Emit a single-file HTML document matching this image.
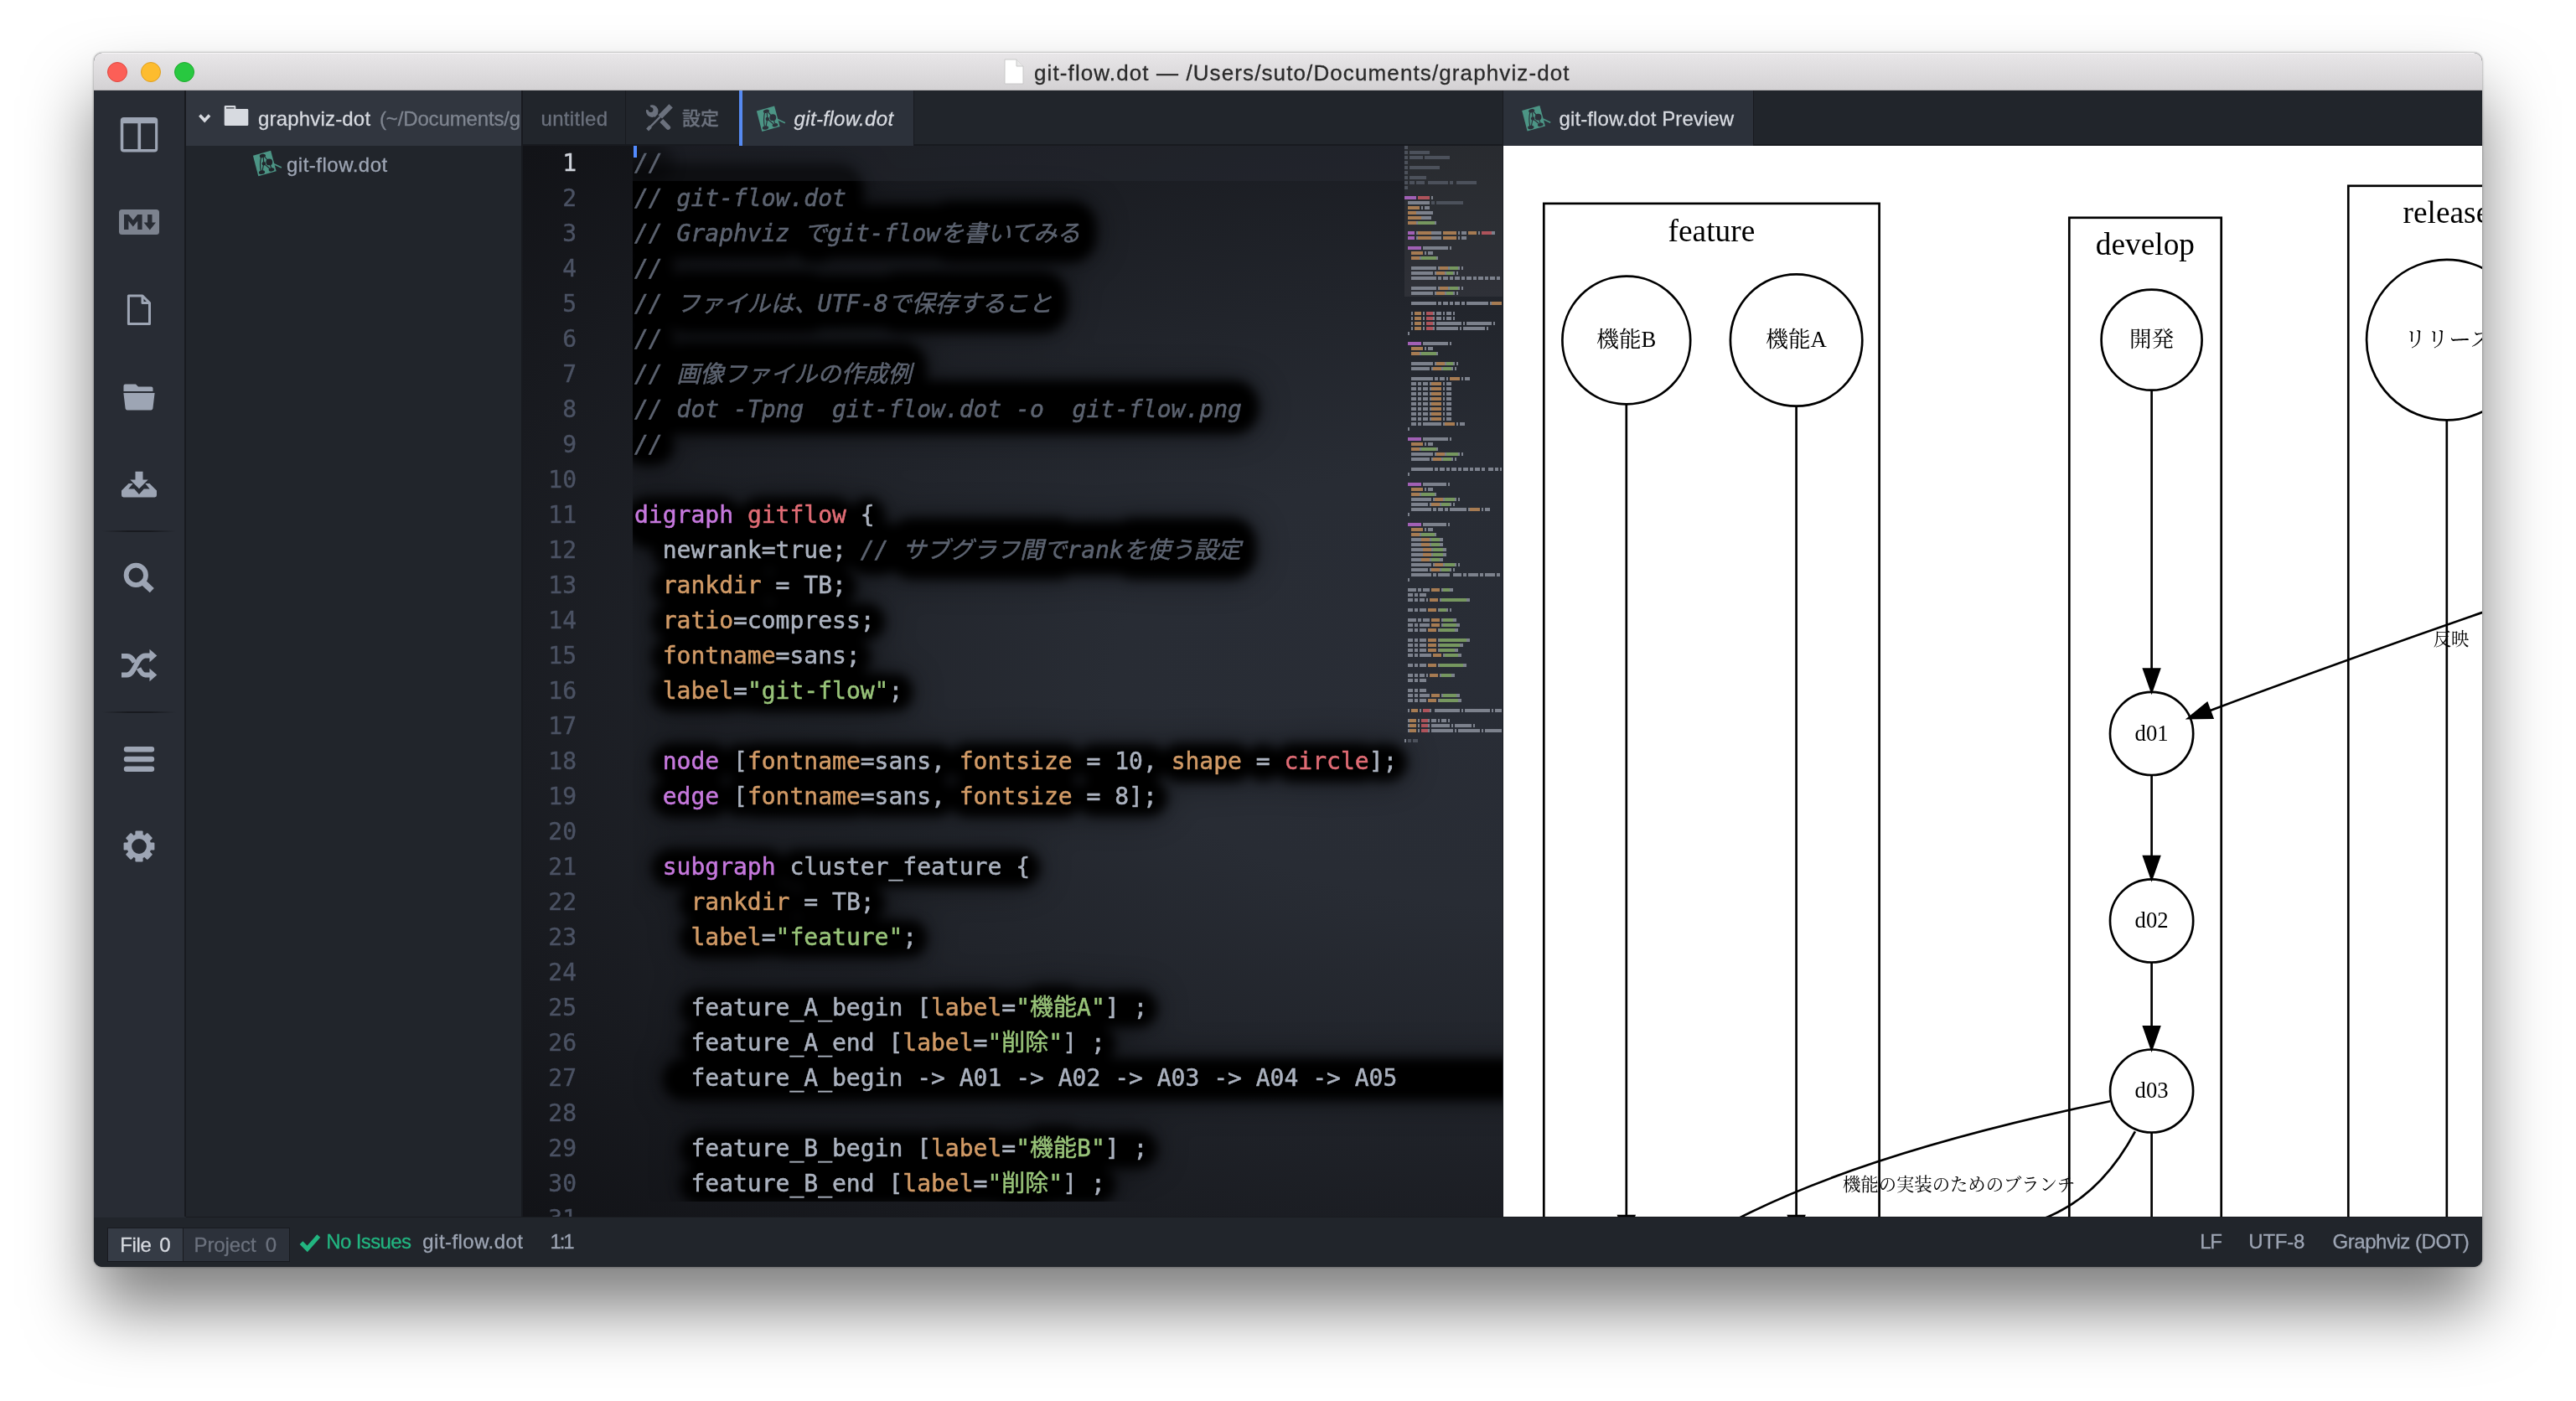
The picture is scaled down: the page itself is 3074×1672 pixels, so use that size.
<!DOCTYPE html>
<html lang="ja"><head><meta charset="utf-8"><title>git-flow.dot — /Users/suto/Documents/graphviz-dot</title>
<style>
html,body{margin:0;padding:0}
body{width:3074px;height:1672px;background:#fff;overflow:hidden;position:relative;font-family:"Liberation Sans","Noto Sans CJK JP",sans-serif}
.abs,.abs>*{position:absolute}
#shadow{position:absolute;left:112px;top:63px;width:2850px;height:1449px;border-radius:10px;background:#21252b;
 box-shadow:0 50px 80px rgba(0,0,0,.50),0 0 3px rgba(0,0,0,.45)}
#win{will-change:transform;position:absolute;left:0;top:0;width:3074px;height:1672px;clip-path:inset(63px 112px 160px 112px round 10px)}
#win div,#win span,#win svg{position:absolute}
.ui{font-size:24px;line-height:30px;white-space:nowrap;color:#9da5b4;-webkit-text-stroke:.3px}
/* title bar */
#tb{left:112px;top:63px;width:2850px;height:45px;background:linear-gradient(#e9e7e9,#d3d1d3);box-shadow:inset 0 1px 0 #f6f5f6, inset 0 -1px 0 #b4b2b4}
.tl{width:24px;height:24px;border-radius:50%;top:74px;box-sizing:border-box}
/* editor */
#ed{left:624px;top:174px;width:1169px;height:1279px;overflow:hidden;
 background:radial-gradient(ellipse 1653px 950px at 1169px 640px,#292d36 0%,#282c34 28%,#111216 100%)}
#gut{left:0;top:0;width:131px;height:1279px}
.ln{right:0;width:131px;height:42px;text-align:right;font:28px/42px "DejaVu Sans Mono","Liberation Mono","Noto Sans CJK JP",monospace;color:#4b5263;left:-67px;-webkit-text-stroke:.4px}
#lines{left:131px;top:0;width:1038px;height:1279px;overflow:hidden}
.l{left:2px;height:42px;font:28px/42px "DejaVu Sans Mono","Liberation Mono","Noto Sans CJK JP",monospace;white-space:pre;color:#abb2bf;-webkit-text-stroke:.5px}
.l span{position:static !important}
.c{color:#5c6370;font-style:italic} .p{color:#c678dd} .o{color:#d19a66} .g{color:#98c379} .r{color:#e06c75}
</style></head><body>
<div id="shadow"></div>
<div id="win">
<div id="tb"></div><div class="tl" style="left:128px;background:#fc5f57;border:1px solid #df4840"></div><div class="tl" style="left:168px;background:#fdbc2e;border:1px solid #dea024"></div><div class="tl" style="left:208px;background:#28c840;border:1px solid #1dab2c"></div><svg style="left:1198px;top:70px" width="24" height="31" viewBox="0 0 24 31"><path d="M1 1h14l8 8v21H1z" fill="#fff" stroke="#c8c8c8" stroke-width="1"/><path d="M15 1v8h8" fill="#e8e8e8" stroke="#c8c8c8" stroke-width="1"/></svg><div id="title" style="-webkit-text-stroke:.3px;left:1234px;top:70px;font-size:26px;line-height:34px;color:#2a2a2a;white-space:nowrap;letter-spacing:1.11px">git-flow.dot — /Users/suto/Documents/graphviz-dot</div><div style="left:112px;top:108px;width:109px;height:1345px;background:#282c34"></div><div style="left:220.400px;top:108px;width:1.600px;height:1344px;background:#181a1f"></div><div style="left:222px;top:108px;width:400px;height:1345px;background:#21252b"></div><div style="left:222px;top:108px;width:400px;height:66px;background:#31363f"></div><div style="left:622px;top:108px;width:2px;height:1345px;background:#181a1f"></div><div class="ui" id="t_root" style="left:308px;top:127px;color:#d7dae0;letter-spacing:.18px">graphviz-dot</div><div class="ui" id="t_path" style="left:453px;top:127px;color:#7f8590;width:169px;overflow:hidden;letter-spacing:-.15px">(~/Documents/graphviz-dot)</div><div class="ui" id="t_file" style="left:342px;top:182px;color:#9da5b4;letter-spacing:.5px">git-flow.dot</div><div style="left:624px;top:108px;width:1169px;height:66px;background:#21252b;box-shadow:inset 0 -2px 0 #181a1f"></div><div style="left:1793px;top:108px;width:1px;height:1345px;background:#181a1f"></div><div style="left:1794px;top:108px;width:1168px;height:66px;background:#21252b;box-shadow:inset 0 -2px 0 #181a1f"></div><div style="left:746px;top:108px;width:1px;height:64px;background:#181a1f"></div><div style="left:882px;top:108px;width:1px;height:64px;background:#181a1f"></div><div style="left:1090px;top:108px;width:1px;height:64px;background:#181a1f"></div><div style="left:882px;top:108px;width:208px;height:66px;background:#2c313a"></div><div style="left:882px;top:108px;width:4px;height:66px;background:#568af2"></div><div class="ui" id="tab1" style="left:645.5px;top:127px;color:#6b717d;letter-spacing:.32px">untitled</div><div class="ui" id="tab2" style="left:814px;top:127px;color:#6b717d;font-size:22px;font-weight:500">設定</div><div class="ui" id="tab3" style="left:947.5px;top:127px;color:#d7dae0;font-style:italic;letter-spacing:.36px">git-flow.dot</div><div style="left:1794px;top:108px;width:298px;height:66px;background:#2c313a"></div><div style="left:2092px;top:108px;width:1px;height:64px;background:#181a1f"></div><div class="ui" id="tab4" style="left:1860.5px;top:127px;color:#d7dae0;letter-spacing:.1px">git-flow.dot Preview</div><div id="ed"><div id="gut"><div class="ln" style="top:0px;color:#d0d4dc">1</div><div class="ln" style="top:42px;color:#4b5263">2</div><div class="ln" style="top:84px;color:#4b5263">3</div><div class="ln" style="top:126px;color:#4b5263">4</div><div class="ln" style="top:168px;color:#4b5263">5</div><div class="ln" style="top:210px;color:#4b5263">6</div><div class="ln" style="top:252px;color:#4b5263">7</div><div class="ln" style="top:294px;color:#4b5263">8</div><div class="ln" style="top:336px;color:#4b5263">9</div><div class="ln" style="top:378px;color:#4b5263">10</div><div class="ln" style="top:420px;color:#4b5263">11</div><div class="ln" style="top:462px;color:#4b5263">12</div><div class="ln" style="top:504px;color:#4b5263">13</div><div class="ln" style="top:546px;color:#4b5263">14</div><div class="ln" style="top:588px;color:#4b5263">15</div><div class="ln" style="top:630px;color:#4b5263">16</div><div class="ln" style="top:672px;color:#4b5263">17</div><div class="ln" style="top:714px;color:#4b5263">18</div><div class="ln" style="top:756px;color:#4b5263">19</div><div class="ln" style="top:798px;color:#4b5263">20</div><div class="ln" style="top:840px;color:#4b5263">21</div><div class="ln" style="top:882px;color:#4b5263">22</div><div class="ln" style="top:924px;color:#4b5263">23</div><div class="ln" style="top:966px;color:#4b5263">24</div><div class="ln" style="top:1008px;color:#4b5263">25</div><div class="ln" style="top:1050px;color:#4b5263">26</div><div class="ln" style="top:1092px;color:#4b5263">27</div><div class="ln" style="top:1134px;color:#4b5263">28</div><div class="ln" style="top:1176px;color:#4b5263">29</div><div class="ln" style="top:1218px;color:#4b5263">30</div><div class="ln" style="top:1260px;color:#4b5263">31</div></div><div id="lines"><div style="left:0;top:0;width:1038px;height:1260px;overflow:hidden"><div style="left:0;top:0;width:1038px;height:1279px;filter:blur(20px);opacity:.4"><div style="left:-18.0px;top:22px;width:292.8px;height:70px;background:#000;border-radius:30px"></div><div style="left:-18.0px;top:70px;width:225.4px;height:64px;background:#000;border-radius:30px"></div><div style="left:186.3px;top:66px;width:64.0px;height:73px;background:#000;border-radius:30px"></div><div style="left:212.3px;top:70px;width:174.8px;height:64px;background:#000;border-radius:30px"></div><div style="left:349.1px;top:66px;width:204.0px;height:73px;background:#000;border-radius:30px"></div><div style="left:-11.0px;top:123px;width:59.7px;height:48px;background:#000;border-radius:24px"></div><div style="left:-18.0px;top:154px;width:73.7px;height:64px;background:#000;border-radius:30px"></div><div style="left:34.6px;top:150px;width:204.0px;height:73px;background:#000;border-radius:30px"></div><div style="left:200.6px;top:154px;width:124.3px;height:64px;background:#000;border-radius:30px"></div><div style="left:286.8px;top:150px;width:232.0px;height:73px;background:#000;border-radius:30px"></div><div style="left:-11.0px;top:207px;width:59.7px;height:48px;background:#000;border-radius:24px"></div><div style="left:-18.0px;top:238px;width:73.7px;height:64px;background:#000;border-radius:30px"></div><div style="left:34.6px;top:234px;width:316.0px;height:73px;background:#000;border-radius:30px"></div><div style="left:-18.0px;top:280px;width:764.8px;height:64px;background:#000;border-radius:30px"></div><div style="left:-11.0px;top:333px;width:59.7px;height:48px;background:#000;border-radius:24px"></div><div style="left:-11.0px;top:419px;width:144.0px;height:61px;background:#000;border-radius:30px"></div><div style="left:123.8px;top:419px;width:144.0px;height:61px;background:#000;border-radius:30px"></div><div style="left:259.7px;top:420px;width:40.9px;height:44px;background:#000;border-radius:22px"></div><div style="left:23.7px;top:462px;width:243.1px;height:44px;background:#000;border-radius:22px"></div><div style="left:251.7px;top:448px;width:73.7px;height:64px;background:#000;border-radius:30px"></div><div style="left:304.3px;top:444px;width:232.0px;height:73px;background:#000;border-radius:30px"></div><div style="left:498.3px;top:448px;width:107.4px;height:64px;background:#000;border-radius:30px"></div><div style="left:567.7px;top:444px;width:176.0px;height:73px;background:#000;border-radius:30px"></div><div style="left:22.7px;top:503px;width:144.0px;height:46px;background:#000;border-radius:23px"></div><div style="left:158.6px;top:504px;width:108.3px;height:44px;background:#000;border-radius:22px"></div><div style="left:22.7px;top:545px;width:110.3px;height:46px;background:#000;border-radius:23px"></div><div style="left:108.0px;top:546px;width:192.6px;height:44px;background:#000;border-radius:22px"></div><div style="left:22.7px;top:587px;width:160.8px;height:46px;background:#000;border-radius:23px"></div><div style="left:158.6px;top:588px;width:125.1px;height:44px;background:#000;border-radius:22px"></div><div style="left:22.7px;top:629px;width:110.3px;height:46px;background:#000;border-radius:23px"></div><div style="left:108.0px;top:630px;width:40.9px;height:44px;background:#000;border-radius:22px"></div><div style="left:123.8px;top:629px;width:194.6px;height:46px;background:#000;border-radius:23px"></div><div style="left:293.4px;top:630px;width:40.9px;height:44px;background:#000;border-radius:22px"></div><div style="left:22.7px;top:713px;width:93.4px;height:46px;background:#000;border-radius:23px"></div><div style="left:108.0px;top:714px;width:40.9px;height:44px;background:#000;border-radius:22px"></div><div style="left:123.8px;top:713px;width:160.8px;height:46px;background:#000;border-radius:23px"></div><div style="left:259.7px;top:714px;width:125.1px;height:44px;background:#000;border-radius:22px"></div><div style="left:376.7px;top:713px;width:160.8px;height:46px;background:#000;border-radius:23px"></div><div style="left:529.4px;top:714px;width:108.3px;height:44px;background:#000;border-radius:22px"></div><div style="left:629.5px;top:713px;width:110.3px;height:46px;background:#000;border-radius:23px"></div><div style="left:731.7px;top:714px;width:40.9px;height:44px;background:#000;border-radius:22px"></div><div style="left:764.4px;top:713px;width:127.1px;height:46px;background:#000;border-radius:23px"></div><div style="left:866.5px;top:714px;width:57.7px;height:44px;background:#000;border-radius:22px"></div><div style="left:22.7px;top:755px;width:93.4px;height:46px;background:#000;border-radius:23px"></div><div style="left:108.0px;top:756px;width:40.9px;height:44px;background:#000;border-radius:22px"></div><div style="left:123.8px;top:755px;width:160.8px;height:46px;background:#000;border-radius:23px"></div><div style="left:259.7px;top:756px;width:125.1px;height:44px;background:#000;border-radius:22px"></div><div style="left:376.7px;top:755px;width:160.8px;height:46px;background:#000;border-radius:23px"></div><div style="left:529.4px;top:756px;width:108.3px;height:44px;background:#000;border-radius:22px"></div><div style="left:22.7px;top:839px;width:160.8px;height:46px;background:#000;border-radius:23px"></div><div style="left:175.4px;top:840px;width:310.6px;height:44px;background:#000;border-radius:22px"></div><div style="left:56.4px;top:881px;width:144.0px;height:46px;background:#000;border-radius:23px"></div><div style="left:192.3px;top:882px;width:108.3px;height:44px;background:#000;border-radius:22px"></div><div style="left:56.4px;top:923px;width:110.3px;height:46px;background:#000;border-radius:23px"></div><div style="left:141.7px;top:924px;width:40.9px;height:44px;background:#000;border-radius:22px"></div><div style="left:157.6px;top:923px;width:177.7px;height:46px;background:#000;border-radius:23px"></div><div style="left:310.3px;top:924px;width:40.9px;height:44px;background:#000;border-radius:22px"></div><div style="left:57.4px;top:1008px;width:310.6px;height:44px;background:#000;border-radius:22px"></div><div style="left:343.0px;top:1007px;width:110.3px;height:46px;background:#000;border-radius:23px"></div><div style="left:428.3px;top:1008px;width:40.9px;height:44px;background:#000;border-radius:22px"></div><div style="left:444.1px;top:1007px;width:42.9px;height:46px;background:#000;border-radius:23px"></div><div style="left:460.0px;top:1002px;width:84.0px;height:56px;background:#000;border-radius:28px"></div><div style="left:517.0px;top:1007px;width:59.7px;height:46px;background:#000;border-radius:23px"></div><div style="left:551.7px;top:1008px;width:74.6px;height:44px;background:#000;border-radius:22px"></div><div style="left:57.4px;top:1050px;width:276.8px;height:44px;background:#000;border-radius:22px"></div><div style="left:309.3px;top:1049px;width:110.3px;height:46px;background:#000;border-radius:23px"></div><div style="left:394.5px;top:1050px;width:40.9px;height:44px;background:#000;border-radius:22px"></div><div style="left:410.4px;top:1049px;width:42.9px;height:46px;background:#000;border-radius:23px"></div><div style="left:426.3px;top:1044px;width:84.0px;height:56px;background:#000;border-radius:28px"></div><div style="left:483.3px;top:1049px;width:42.9px;height:46px;background:#000;border-radius:23px"></div><div style="left:501.1px;top:1050px;width:74.6px;height:44px;background:#000;border-radius:22px"></div><div style="left:36.0px;top:1089px;width:1100.0px;height:50px;background:#000;border-radius:25px"></div><div style="left:57.4px;top:1176px;width:310.6px;height:44px;background:#000;border-radius:22px"></div><div style="left:343.0px;top:1175px;width:110.3px;height:46px;background:#000;border-radius:23px"></div><div style="left:428.3px;top:1176px;width:40.9px;height:44px;background:#000;border-radius:22px"></div><div style="left:444.1px;top:1175px;width:42.9px;height:46px;background:#000;border-radius:23px"></div><div style="left:460.0px;top:1170px;width:84.0px;height:56px;background:#000;border-radius:28px"></div><div style="left:517.0px;top:1175px;width:59.7px;height:46px;background:#000;border-radius:23px"></div><div style="left:551.7px;top:1176px;width:74.6px;height:44px;background:#000;border-radius:22px"></div><div style="left:57.4px;top:1218px;width:276.8px;height:44px;background:#000;border-radius:22px"></div><div style="left:309.3px;top:1217px;width:110.3px;height:46px;background:#000;border-radius:23px"></div><div style="left:394.5px;top:1218px;width:40.9px;height:44px;background:#000;border-radius:22px"></div><div style="left:410.4px;top:1217px;width:42.9px;height:46px;background:#000;border-radius:23px"></div><div style="left:426.3px;top:1212px;width:84.0px;height:56px;background:#000;border-radius:28px"></div><div style="left:483.3px;top:1217px;width:42.9px;height:46px;background:#000;border-radius:23px"></div><div style="left:501.1px;top:1218px;width:74.6px;height:44px;background:#000;border-radius:22px"></div></div></div><div style="left:0;top:0;width:1038px;height:1260px;overflow:hidden"><div style="left:0;top:0;width:1038px;height:1279px;filter:blur(6.5px)"><div style="left:-18.0px;top:22px;width:292.8px;height:70px;background:#000;border-radius:30px"></div><div style="left:-18.0px;top:70px;width:225.4px;height:64px;background:#000;border-radius:30px"></div><div style="left:186.3px;top:66px;width:64.0px;height:73px;background:#000;border-radius:30px"></div><div style="left:212.3px;top:70px;width:174.8px;height:64px;background:#000;border-radius:30px"></div><div style="left:349.1px;top:66px;width:204.0px;height:73px;background:#000;border-radius:30px"></div><div style="left:-11.0px;top:123px;width:59.7px;height:48px;background:#000;border-radius:24px"></div><div style="left:-18.0px;top:154px;width:73.7px;height:64px;background:#000;border-radius:30px"></div><div style="left:34.6px;top:150px;width:204.0px;height:73px;background:#000;border-radius:30px"></div><div style="left:200.6px;top:154px;width:124.3px;height:64px;background:#000;border-radius:30px"></div><div style="left:286.8px;top:150px;width:232.0px;height:73px;background:#000;border-radius:30px"></div><div style="left:-11.0px;top:207px;width:59.7px;height:48px;background:#000;border-radius:24px"></div><div style="left:-18.0px;top:238px;width:73.7px;height:64px;background:#000;border-radius:30px"></div><div style="left:34.6px;top:234px;width:316.0px;height:73px;background:#000;border-radius:30px"></div><div style="left:-18.0px;top:280px;width:764.8px;height:64px;background:#000;border-radius:30px"></div><div style="left:-11.0px;top:333px;width:59.7px;height:48px;background:#000;border-radius:24px"></div><div style="left:-11.0px;top:419px;width:144.0px;height:61px;background:#000;border-radius:30px"></div><div style="left:123.8px;top:419px;width:144.0px;height:61px;background:#000;border-radius:30px"></div><div style="left:259.7px;top:420px;width:40.9px;height:44px;background:#000;border-radius:22px"></div><div style="left:23.7px;top:462px;width:243.1px;height:44px;background:#000;border-radius:22px"></div><div style="left:251.7px;top:448px;width:73.7px;height:64px;background:#000;border-radius:30px"></div><div style="left:304.3px;top:444px;width:232.0px;height:73px;background:#000;border-radius:30px"></div><div style="left:498.3px;top:448px;width:107.4px;height:64px;background:#000;border-radius:30px"></div><div style="left:567.7px;top:444px;width:176.0px;height:73px;background:#000;border-radius:30px"></div><div style="left:22.7px;top:503px;width:144.0px;height:46px;background:#000;border-radius:23px"></div><div style="left:158.6px;top:504px;width:108.3px;height:44px;background:#000;border-radius:22px"></div><div style="left:22.7px;top:545px;width:110.3px;height:46px;background:#000;border-radius:23px"></div><div style="left:108.0px;top:546px;width:192.6px;height:44px;background:#000;border-radius:22px"></div><div style="left:22.7px;top:587px;width:160.8px;height:46px;background:#000;border-radius:23px"></div><div style="left:158.6px;top:588px;width:125.1px;height:44px;background:#000;border-radius:22px"></div><div style="left:22.7px;top:629px;width:110.3px;height:46px;background:#000;border-radius:23px"></div><div style="left:108.0px;top:630px;width:40.9px;height:44px;background:#000;border-radius:22px"></div><div style="left:123.8px;top:629px;width:194.6px;height:46px;background:#000;border-radius:23px"></div><div style="left:293.4px;top:630px;width:40.9px;height:44px;background:#000;border-radius:22px"></div><div style="left:22.7px;top:713px;width:93.4px;height:46px;background:#000;border-radius:23px"></div><div style="left:108.0px;top:714px;width:40.9px;height:44px;background:#000;border-radius:22px"></div><div style="left:123.8px;top:713px;width:160.8px;height:46px;background:#000;border-radius:23px"></div><div style="left:259.7px;top:714px;width:125.1px;height:44px;background:#000;border-radius:22px"></div><div style="left:376.7px;top:713px;width:160.8px;height:46px;background:#000;border-radius:23px"></div><div style="left:529.4px;top:714px;width:108.3px;height:44px;background:#000;border-radius:22px"></div><div style="left:629.5px;top:713px;width:110.3px;height:46px;background:#000;border-radius:23px"></div><div style="left:731.7px;top:714px;width:40.9px;height:44px;background:#000;border-radius:22px"></div><div style="left:764.4px;top:713px;width:127.1px;height:46px;background:#000;border-radius:23px"></div><div style="left:866.5px;top:714px;width:57.7px;height:44px;background:#000;border-radius:22px"></div><div style="left:22.7px;top:755px;width:93.4px;height:46px;background:#000;border-radius:23px"></div><div style="left:108.0px;top:756px;width:40.9px;height:44px;background:#000;border-radius:22px"></div><div style="left:123.8px;top:755px;width:160.8px;height:46px;background:#000;border-radius:23px"></div><div style="left:259.7px;top:756px;width:125.1px;height:44px;background:#000;border-radius:22px"></div><div style="left:376.7px;top:755px;width:160.8px;height:46px;background:#000;border-radius:23px"></div><div style="left:529.4px;top:756px;width:108.3px;height:44px;background:#000;border-radius:22px"></div><div style="left:22.7px;top:839px;width:160.8px;height:46px;background:#000;border-radius:23px"></div><div style="left:175.4px;top:840px;width:310.6px;height:44px;background:#000;border-radius:22px"></div><div style="left:56.4px;top:881px;width:144.0px;height:46px;background:#000;border-radius:23px"></div><div style="left:192.3px;top:882px;width:108.3px;height:44px;background:#000;border-radius:22px"></div><div style="left:56.4px;top:923px;width:110.3px;height:46px;background:#000;border-radius:23px"></div><div style="left:141.7px;top:924px;width:40.9px;height:44px;background:#000;border-radius:22px"></div><div style="left:157.6px;top:923px;width:177.7px;height:46px;background:#000;border-radius:23px"></div><div style="left:310.3px;top:924px;width:40.9px;height:44px;background:#000;border-radius:22px"></div><div style="left:57.4px;top:1008px;width:310.6px;height:44px;background:#000;border-radius:22px"></div><div style="left:343.0px;top:1007px;width:110.3px;height:46px;background:#000;border-radius:23px"></div><div style="left:428.3px;top:1008px;width:40.9px;height:44px;background:#000;border-radius:22px"></div><div style="left:444.1px;top:1007px;width:42.9px;height:46px;background:#000;border-radius:23px"></div><div style="left:460.0px;top:1002px;width:84.0px;height:56px;background:#000;border-radius:28px"></div><div style="left:517.0px;top:1007px;width:59.7px;height:46px;background:#000;border-radius:23px"></div><div style="left:551.7px;top:1008px;width:74.6px;height:44px;background:#000;border-radius:22px"></div><div style="left:57.4px;top:1050px;width:276.8px;height:44px;background:#000;border-radius:22px"></div><div style="left:309.3px;top:1049px;width:110.3px;height:46px;background:#000;border-radius:23px"></div><div style="left:394.5px;top:1050px;width:40.9px;height:44px;background:#000;border-radius:22px"></div><div style="left:410.4px;top:1049px;width:42.9px;height:46px;background:#000;border-radius:23px"></div><div style="left:426.3px;top:1044px;width:84.0px;height:56px;background:#000;border-radius:28px"></div><div style="left:483.3px;top:1049px;width:42.9px;height:46px;background:#000;border-radius:23px"></div><div style="left:501.1px;top:1050px;width:74.6px;height:44px;background:#000;border-radius:22px"></div><div style="left:36.0px;top:1089px;width:1100.0px;height:50px;background:#000;border-radius:25px"></div><div style="left:57.4px;top:1176px;width:310.6px;height:44px;background:#000;border-radius:22px"></div><div style="left:343.0px;top:1175px;width:110.3px;height:46px;background:#000;border-radius:23px"></div><div style="left:428.3px;top:1176px;width:40.9px;height:44px;background:#000;border-radius:22px"></div><div style="left:444.1px;top:1175px;width:42.9px;height:46px;background:#000;border-radius:23px"></div><div style="left:460.0px;top:1170px;width:84.0px;height:56px;background:#000;border-radius:28px"></div><div style="left:517.0px;top:1175px;width:59.7px;height:46px;background:#000;border-radius:23px"></div><div style="left:551.7px;top:1176px;width:74.6px;height:44px;background:#000;border-radius:22px"></div><div style="left:57.4px;top:1218px;width:276.8px;height:44px;background:#000;border-radius:22px"></div><div style="left:309.3px;top:1217px;width:110.3px;height:46px;background:#000;border-radius:23px"></div><div style="left:394.5px;top:1218px;width:40.9px;height:44px;background:#000;border-radius:22px"></div><div style="left:410.4px;top:1217px;width:42.9px;height:46px;background:#000;border-radius:23px"></div><div style="left:426.3px;top:1212px;width:84.0px;height:56px;background:#000;border-radius:28px"></div><div style="left:483.3px;top:1217px;width:42.9px;height:46px;background:#000;border-radius:23px"></div><div style="left:501.1px;top:1218px;width:74.6px;height:44px;background:#000;border-radius:22px"></div></div></div><div style="left:0;top:0;width:921px;height:42px;background:rgba(47,50,60,.3)"></div><div style="left:0;top:0;width:1038px;height:1260px;overflow:hidden"><div style="left:0;top:0;width:1038px;height:1279px;filter:blur(8px);opacity:.35"><div style="left:-11.0px;top:-3px;width:59.7px;height:48px;background:#000;border-radius:24px"></div></div></div><div style="left:1px;top:0;width:4px;height:14px;background:#528bff"></div><div class="l" style="top:0px"><span class="c">//</span></div><div class="l" style="top:42px"><span class="c">// git-flow.dot</span></div><div class="l" style="top:84px"><span class="c">// Graphviz でgit-flowを書いてみる</span></div><div class="l" style="top:126px"><span class="c">//</span></div><div class="l" style="top:168px"><span class="c">// ファイルは、UTF-8で保存すること</span></div><div class="l" style="top:210px"><span class="c">//</span></div><div class="l" style="top:252px"><span class="c">// 画像ファイルの作成例</span></div><div class="l" style="top:294px"><span class="c">// dot -Tpng  git-flow.dot -o  git-flow.png</span></div><div class="l" style="top:336px"><span class="c">//</span></div><div class="l" style="top:420px"><span class="p">digraph</span> <span class="r">gitflow</span> {</div><div class="l" style="top:462px">  newrank=true; <span class="c">// サブグラフ間でrankを使う設定</span></div><div class="l" style="top:504px">  <span class="o">rankdir</span> = TB;</div><div class="l" style="top:546px">  <span class="o">ratio</span>=compress;</div><div class="l" style="top:588px">  <span class="o">fontname</span>=sans;</div><div class="l" style="top:630px">  <span class="o">label</span>=<span class="g">"git-flow"</span>;</div><div class="l" style="top:714px">  <span class="p">node</span> [<span class="o">fontname</span>=sans, <span class="o">fontsize</span> = 10, <span class="o">shape</span> = <span class="r">circle</span>];</div><div class="l" style="top:756px">  <span class="p">edge</span> [<span class="o">fontname</span>=sans, <span class="o">fontsize</span> = 8];</div><div class="l" style="top:840px">  <span class="p">subgraph</span> cluster_feature {</div><div class="l" style="top:882px">    <span class="o">rankdir</span> = TB;</div><div class="l" style="top:924px">    <span class="o">label</span>=<span class="g">"feature"</span>;</div><div class="l" style="top:1008px">    feature_A_begin [<span class="o">label</span>=<span class="g">"機能A"</span>] ;</div><div class="l" style="top:1050px">    feature_A_end [<span class="o">label</span>=<span class="g">"削除"</span>] ;</div><div class="l" style="top:1092px">    feature_A_begin -&gt; A01 -&gt; A02 -&gt; A03 -&gt; A04 -&gt; A05</div><div class="l" style="top:1176px">    feature_B_begin [<span class="o">label</span>=<span class="g">"機能B"</span>] ;</div><div class="l" style="top:1218px">    feature_B_end [<span class="o">label</span>=<span class="g">"削除"</span>] ;</div></div><div id="mm" style="left:1052px;top:0;width:117px;height:1279px"><div style="left:0;top:0;width:117px;height:180px;background:rgba(255,255,255,.06)"></div><svg style="left:0;top:0" width="117" height="720" viewBox="0 0 117 720" shape-rendering="crispEdges"><rect x="0" y="0" width="4" height="4" fill="#4c515b"/><rect x="0" y="6" width="4" height="4" fill="#4c515b"/><rect x="6" y="6" width="24" height="4" fill="#4c515b"/><rect x="0" y="12" width="4" height="4" fill="#4c515b"/><rect x="6" y="12" width="16" height="4" fill="#4c515b"/><rect x="24" y="12" width="30" height="4" fill="#4c515b"/><rect x="0" y="18" width="4" height="4" fill="#4c515b"/><rect x="0" y="24" width="4" height="4" fill="#4c515b"/><rect x="6" y="24" width="36" height="4" fill="#4c515b"/><rect x="0" y="30" width="4" height="4" fill="#4c515b"/><rect x="0" y="36" width="4" height="4" fill="#4c515b"/><rect x="6" y="36" width="20" height="4" fill="#4c515b"/><rect x="0" y="42" width="4" height="4" fill="#4c515b"/><rect x="6" y="42" width="6" height="4" fill="#4c515b"/><rect x="14" y="42" width="10" height="4" fill="#4c515b"/><rect x="28" y="42" width="24" height="4" fill="#4c515b"/><rect x="54" y="42" width="4" height="4" fill="#4c515b"/><rect x="62" y="42" width="24" height="4" fill="#4c515b"/><rect x="0" y="48" width="4" height="4" fill="#4c515b"/><rect x="0" y="60" width="14" height="4" fill="#a160b5"/><rect x="16" y="60" width="14" height="4" fill="#ae535b"/><rect x="32" y="60" width="2" height="4" fill="#7c818c"/><rect x="4" y="66" width="26" height="4" fill="#7c818c"/><rect x="32" y="66" width="4" height="4" fill="#4c515b"/><rect x="38" y="66" width="32" height="4" fill="#4c515b"/><rect x="4" y="72" width="14" height="4" fill="#a67b52"/><rect x="20" y="72" width="2" height="4" fill="#7c818c"/><rect x="24" y="72" width="6" height="4" fill="#7c818c"/><rect x="4" y="78" width="10" height="4" fill="#a67b52"/><rect x="14" y="78" width="20" height="4" fill="#7c818c"/><rect x="4" y="84" width="16" height="4" fill="#a67b52"/><rect x="20" y="84" width="12" height="4" fill="#7c818c"/><rect x="4" y="90" width="10" height="4" fill="#a67b52"/><rect x="14" y="90" width="2" height="4" fill="#7c818c"/><rect x="16" y="90" width="20" height="4" fill="#76975f"/><rect x="36" y="90" width="2" height="4" fill="#7c818c"/><rect x="4" y="102" width="8" height="4" fill="#a160b5"/><rect x="14" y="102" width="2" height="4" fill="#7c818c"/><rect x="16" y="102" width="16" height="4" fill="#a67b52"/><rect x="32" y="102" width="12" height="4" fill="#7c818c"/><rect x="46" y="102" width="16" height="4" fill="#a67b52"/><rect x="64" y="102" width="2" height="4" fill="#7c818c"/><rect x="68" y="102" width="6" height="4" fill="#7c818c"/><rect x="76" y="102" width="10" height="4" fill="#a67b52"/><rect x="88" y="102" width="2" height="4" fill="#7c818c"/><rect x="92" y="102" width="12" height="4" fill="#ae535b"/><rect x="104" y="102" width="4" height="4" fill="#7c818c"/><rect x="4" y="108" width="8" height="4" fill="#a160b5"/><rect x="14" y="108" width="2" height="4" fill="#7c818c"/><rect x="16" y="108" width="16" height="4" fill="#a67b52"/><rect x="32" y="108" width="12" height="4" fill="#7c818c"/><rect x="46" y="108" width="16" height="4" fill="#a67b52"/><rect x="64" y="108" width="2" height="4" fill="#7c818c"/><rect x="68" y="108" width="6" height="4" fill="#7c818c"/><rect x="4" y="120" width="16" height="4" fill="#a160b5"/><rect x="22" y="120" width="30" height="4" fill="#7c818c"/><rect x="54" y="120" width="2" height="4" fill="#7c818c"/><rect x="8" y="126" width="14" height="4" fill="#a67b52"/><rect x="24" y="126" width="2" height="4" fill="#7c818c"/><rect x="28" y="126" width="6" height="4" fill="#7c818c"/><rect x="8" y="132" width="10" height="4" fill="#a67b52"/><rect x="18" y="132" width="2" height="4" fill="#7c818c"/><rect x="20" y="132" width="18" height="4" fill="#76975f"/><rect x="38" y="132" width="2" height="4" fill="#7c818c"/><rect x="8" y="144" width="30" height="4" fill="#7c818c"/><rect x="40" y="144" width="2" height="4" fill="#7c818c"/><rect x="42" y="144" width="10" height="4" fill="#a67b52"/><rect x="52" y="144" width="2" height="4" fill="#7c818c"/><rect x="54" y="144" width="10" height="4" fill="#76975f"/><rect x="64" y="144" width="2" height="4" fill="#7c818c"/><rect x="68" y="144" width="2" height="4" fill="#7c818c"/><rect x="8" y="150" width="26" height="4" fill="#7c818c"/><rect x="36" y="150" width="2" height="4" fill="#7c818c"/><rect x="38" y="150" width="10" height="4" fill="#a67b52"/><rect x="48" y="150" width="2" height="4" fill="#7c818c"/><rect x="50" y="150" width="8" height="4" fill="#76975f"/><rect x="58" y="150" width="2" height="4" fill="#7c818c"/><rect x="62" y="150" width="2" height="4" fill="#7c818c"/><rect x="8" y="156" width="30" height="4" fill="#7c818c"/><rect x="40" y="156" width="4" height="4" fill="#7c818c"/><rect x="46" y="156" width="6" height="4" fill="#7c818c"/><rect x="54" y="156" width="4" height="4" fill="#7c818c"/><rect x="60" y="156" width="6" height="4" fill="#7c818c"/><rect x="68" y="156" width="4" height="4" fill="#7c818c"/><rect x="74" y="156" width="6" height="4" fill="#7c818c"/><rect x="82" y="156" width="4" height="4" fill="#7c818c"/><rect x="88" y="156" width="6" height="4" fill="#7c818c"/><rect x="96" y="156" width="4" height="4" fill="#7c818c"/><rect x="102" y="156" width="6" height="4" fill="#7c818c"/><rect x="110" y="156" width="4" height="4" fill="#7c818c"/><rect x="8" y="168" width="30" height="4" fill="#7c818c"/><rect x="40" y="168" width="2" height="4" fill="#7c818c"/><rect x="42" y="168" width="10" height="4" fill="#a67b52"/><rect x="52" y="168" width="2" height="4" fill="#7c818c"/><rect x="54" y="168" width="10" height="4" fill="#76975f"/><rect x="64" y="168" width="2" height="4" fill="#7c818c"/><rect x="68" y="168" width="2" height="4" fill="#7c818c"/><rect x="8" y="174" width="26" height="4" fill="#7c818c"/><rect x="36" y="174" width="2" height="4" fill="#7c818c"/><rect x="38" y="174" width="10" height="4" fill="#a67b52"/><rect x="48" y="174" width="2" height="4" fill="#7c818c"/><rect x="50" y="174" width="8" height="4" fill="#76975f"/><rect x="58" y="174" width="2" height="4" fill="#7c818c"/><rect x="62" y="174" width="2" height="4" fill="#7c818c"/><rect x="8" y="186" width="30" height="4" fill="#7c818c"/><rect x="40" y="186" width="4" height="4" fill="#7c818c"/><rect x="46" y="186" width="6" height="4" fill="#7c818c"/><rect x="54" y="186" width="4" height="4" fill="#7c818c"/><rect x="60" y="186" width="6" height="4" fill="#7c818c"/><rect x="68" y="186" width="4" height="4" fill="#7c818c"/><rect x="74" y="186" width="26" height="4" fill="#7c818c"/><rect x="102" y="186" width="2" height="4" fill="#7c818c"/><rect x="104" y="186" width="12" height="4" fill="#a67b52"/><rect x="8" y="198" width="2" height="4" fill="#7c818c"/><rect x="12" y="198" width="8" height="4" fill="#a67b52"/><rect x="22" y="198" width="2" height="4" fill="#7c818c"/><rect x="26" y="198" width="8" height="4" fill="#ae535b"/><rect x="34" y="198" width="2" height="4" fill="#7c818c"/><rect x="38" y="198" width="6" height="4" fill="#7c818c"/><rect x="46" y="198" width="2" height="4" fill="#7c818c"/><rect x="50" y="198" width="6" height="4" fill="#7c818c"/><rect x="58" y="198" width="2" height="4" fill="#7c818c"/><rect x="8" y="204" width="2" height="4" fill="#7c818c"/><rect x="12" y="204" width="8" height="4" fill="#a67b52"/><rect x="22" y="204" width="2" height="4" fill="#7c818c"/><rect x="26" y="204" width="8" height="4" fill="#ae535b"/><rect x="34" y="204" width="2" height="4" fill="#7c818c"/><rect x="38" y="204" width="6" height="4" fill="#7c818c"/><rect x="46" y="204" width="2" height="4" fill="#7c818c"/><rect x="50" y="204" width="6" height="4" fill="#7c818c"/><rect x="58" y="204" width="2" height="4" fill="#7c818c"/><rect x="8" y="210" width="2" height="4" fill="#7c818c"/><rect x="12" y="210" width="8" height="4" fill="#a67b52"/><rect x="22" y="210" width="2" height="4" fill="#7c818c"/><rect x="26" y="210" width="8" height="4" fill="#ae535b"/><rect x="34" y="210" width="2" height="4" fill="#7c818c"/><rect x="38" y="210" width="30" height="4" fill="#7c818c"/><rect x="70" y="210" width="2" height="4" fill="#7c818c"/><rect x="74" y="210" width="30" height="4" fill="#7c818c"/><rect x="106" y="210" width="2" height="4" fill="#7c818c"/><rect x="8" y="216" width="2" height="4" fill="#7c818c"/><rect x="12" y="216" width="8" height="4" fill="#a67b52"/><rect x="22" y="216" width="2" height="4" fill="#7c818c"/><rect x="26" y="216" width="8" height="4" fill="#ae535b"/><rect x="34" y="216" width="2" height="4" fill="#7c818c"/><rect x="38" y="216" width="26" height="4" fill="#7c818c"/><rect x="66" y="216" width="2" height="4" fill="#7c818c"/><rect x="70" y="216" width="26" height="4" fill="#7c818c"/><rect x="98" y="216" width="2" height="4" fill="#7c818c"/><rect x="4" y="222" width="2" height="4" fill="#7c818c"/><rect x="4" y="234" width="16" height="4" fill="#a160b5"/><rect x="22" y="234" width="30" height="4" fill="#7c818c"/><rect x="54" y="234" width="2" height="4" fill="#7c818c"/><rect x="8" y="240" width="14" height="4" fill="#a67b52"/><rect x="24" y="240" width="2" height="4" fill="#7c818c"/><rect x="28" y="240" width="6" height="4" fill="#7c818c"/><rect x="8" y="246" width="10" height="4" fill="#a67b52"/><rect x="18" y="246" width="2" height="4" fill="#7c818c"/><rect x="20" y="246" width="18" height="4" fill="#76975f"/><rect x="38" y="246" width="2" height="4" fill="#7c818c"/><rect x="8" y="258" width="26" height="4" fill="#7c818c"/><rect x="36" y="258" width="2" height="4" fill="#7c818c"/><rect x="38" y="258" width="10" height="4" fill="#a67b52"/><rect x="48" y="258" width="2" height="4" fill="#7c818c"/><rect x="50" y="258" width="8" height="4" fill="#76975f"/><rect x="58" y="258" width="2" height="4" fill="#7c818c"/><rect x="62" y="258" width="2" height="4" fill="#7c818c"/><rect x="8" y="264" width="22" height="4" fill="#7c818c"/><rect x="32" y="264" width="2" height="4" fill="#7c818c"/><rect x="34" y="264" width="10" height="4" fill="#a67b52"/><rect x="44" y="264" width="2" height="4" fill="#7c818c"/><rect x="46" y="264" width="10" height="4" fill="#76975f"/><rect x="56" y="264" width="2" height="4" fill="#7c818c"/><rect x="60" y="264" width="2" height="4" fill="#7c818c"/><rect x="8" y="276" width="26" height="4" fill="#7c818c"/><rect x="36" y="276" width="4" height="4" fill="#7c818c"/><rect x="42" y="276" width="6" height="4" fill="#7c818c"/><rect x="50" y="276" width="2" height="4" fill="#7c818c"/><rect x="54" y="276" width="12" height="4" fill="#a67b52"/><rect x="68" y="276" width="2" height="4" fill="#7c818c"/><rect x="72" y="276" width="6" height="4" fill="#7c818c"/><rect x="8" y="282" width="6" height="4" fill="#7c818c"/><rect x="16" y="282" width="4" height="4" fill="#7c818c"/><rect x="22" y="282" width="6" height="4" fill="#7c818c"/><rect x="30" y="282" width="2" height="4" fill="#7c818c"/><rect x="32" y="282" width="12" height="4" fill="#a67b52"/><rect x="46" y="282" width="2" height="4" fill="#7c818c"/><rect x="50" y="282" width="6" height="4" fill="#7c818c"/><rect x="8" y="288" width="6" height="4" fill="#7c818c"/><rect x="16" y="288" width="4" height="4" fill="#7c818c"/><rect x="22" y="288" width="6" height="4" fill="#7c818c"/><rect x="30" y="288" width="2" height="4" fill="#7c818c"/><rect x="32" y="288" width="12" height="4" fill="#a67b52"/><rect x="46" y="288" width="2" height="4" fill="#7c818c"/><rect x="50" y="288" width="6" height="4" fill="#7c818c"/><rect x="8" y="294" width="6" height="4" fill="#7c818c"/><rect x="16" y="294" width="4" height="4" fill="#7c818c"/><rect x="22" y="294" width="6" height="4" fill="#7c818c"/><rect x="30" y="294" width="2" height="4" fill="#7c818c"/><rect x="32" y="294" width="12" height="4" fill="#a67b52"/><rect x="46" y="294" width="2" height="4" fill="#7c818c"/><rect x="50" y="294" width="6" height="4" fill="#7c818c"/><rect x="8" y="300" width="6" height="4" fill="#7c818c"/><rect x="16" y="300" width="4" height="4" fill="#7c818c"/><rect x="22" y="300" width="6" height="4" fill="#7c818c"/><rect x="30" y="300" width="2" height="4" fill="#7c818c"/><rect x="32" y="300" width="12" height="4" fill="#a67b52"/><rect x="46" y="300" width="2" height="4" fill="#7c818c"/><rect x="50" y="300" width="6" height="4" fill="#7c818c"/><rect x="8" y="306" width="6" height="4" fill="#7c818c"/><rect x="16" y="306" width="4" height="4" fill="#7c818c"/><rect x="22" y="306" width="6" height="4" fill="#7c818c"/><rect x="30" y="306" width="2" height="4" fill="#7c818c"/><rect x="32" y="306" width="12" height="4" fill="#a67b52"/><rect x="46" y="306" width="2" height="4" fill="#7c818c"/><rect x="50" y="306" width="6" height="4" fill="#7c818c"/><rect x="8" y="312" width="6" height="4" fill="#7c818c"/><rect x="16" y="312" width="4" height="4" fill="#7c818c"/><rect x="22" y="312" width="6" height="4" fill="#7c818c"/><rect x="30" y="312" width="2" height="4" fill="#7c818c"/><rect x="32" y="312" width="12" height="4" fill="#a67b52"/><rect x="46" y="312" width="2" height="4" fill="#7c818c"/><rect x="50" y="312" width="6" height="4" fill="#7c818c"/><rect x="8" y="318" width="6" height="4" fill="#7c818c"/><rect x="16" y="318" width="4" height="4" fill="#7c818c"/><rect x="22" y="318" width="6" height="4" fill="#7c818c"/><rect x="30" y="318" width="2" height="4" fill="#7c818c"/><rect x="32" y="318" width="12" height="4" fill="#a67b52"/><rect x="46" y="318" width="2" height="4" fill="#7c818c"/><rect x="50" y="318" width="6" height="4" fill="#7c818c"/><rect x="8" y="324" width="6" height="4" fill="#7c818c"/><rect x="16" y="324" width="4" height="4" fill="#7c818c"/><rect x="22" y="324" width="6" height="4" fill="#7c818c"/><rect x="30" y="324" width="2" height="4" fill="#7c818c"/><rect x="32" y="324" width="12" height="4" fill="#a67b52"/><rect x="46" y="324" width="2" height="4" fill="#7c818c"/><rect x="50" y="324" width="6" height="4" fill="#7c818c"/><rect x="8" y="330" width="6" height="4" fill="#7c818c"/><rect x="16" y="330" width="4" height="4" fill="#7c818c"/><rect x="22" y="330" width="22" height="4" fill="#7c818c"/><rect x="46" y="330" width="2" height="4" fill="#7c818c"/><rect x="48" y="330" width="12" height="4" fill="#a67b52"/><rect x="62" y="330" width="2" height="4" fill="#7c818c"/><rect x="66" y="330" width="6" height="4" fill="#7c818c"/><rect x="4" y="336" width="2" height="4" fill="#7c818c"/><rect x="4" y="348" width="16" height="4" fill="#a160b5"/><rect x="22" y="348" width="30" height="4" fill="#7c818c"/><rect x="54" y="348" width="2" height="4" fill="#7c818c"/><rect x="8" y="354" width="14" height="4" fill="#a67b52"/><rect x="24" y="354" width="2" height="4" fill="#7c818c"/><rect x="28" y="354" width="6" height="4" fill="#7c818c"/><rect x="8" y="360" width="10" height="4" fill="#a67b52"/><rect x="18" y="360" width="2" height="4" fill="#7c818c"/><rect x="20" y="360" width="18" height="4" fill="#76975f"/><rect x="38" y="360" width="2" height="4" fill="#7c818c"/><rect x="8" y="366" width="26" height="4" fill="#7c818c"/><rect x="36" y="366" width="2" height="4" fill="#7c818c"/><rect x="38" y="366" width="10" height="4" fill="#a67b52"/><rect x="48" y="366" width="2" height="4" fill="#7c818c"/><rect x="50" y="366" width="14" height="4" fill="#76975f"/><rect x="64" y="366" width="2" height="4" fill="#7c818c"/><rect x="68" y="366" width="2" height="4" fill="#7c818c"/><rect x="8" y="372" width="22" height="4" fill="#7c818c"/><rect x="32" y="372" width="2" height="4" fill="#7c818c"/><rect x="34" y="372" width="10" height="4" fill="#a67b52"/><rect x="44" y="372" width="2" height="4" fill="#7c818c"/><rect x="46" y="372" width="10" height="4" fill="#76975f"/><rect x="56" y="372" width="2" height="4" fill="#7c818c"/><rect x="60" y="372" width="2" height="4" fill="#7c818c"/><rect x="8" y="384" width="26" height="4" fill="#7c818c"/><rect x="36" y="384" width="4" height="4" fill="#7c818c"/><rect x="42" y="384" width="6" height="4" fill="#7c818c"/><rect x="50" y="384" width="4" height="4" fill="#7c818c"/><rect x="56" y="384" width="6" height="4" fill="#7c818c"/><rect x="64" y="384" width="4" height="4" fill="#7c818c"/><rect x="70" y="384" width="6" height="4" fill="#7c818c"/><rect x="78" y="384" width="4" height="4" fill="#7c818c"/><rect x="84" y="384" width="6" height="4" fill="#7c818c"/><rect x="92" y="384" width="4" height="4" fill="#7c818c"/><rect x="100" y="384" width="6" height="4" fill="#7c818c"/><rect x="108" y="384" width="4" height="4" fill="#7c818c"/><rect x="114" y="384" width="2" height="4" fill="#7c818c"/><rect x="4" y="390" width="2" height="4" fill="#7c818c"/><rect x="4" y="402" width="16" height="4" fill="#a160b5"/><rect x="22" y="402" width="28" height="4" fill="#7c818c"/><rect x="52" y="402" width="2" height="4" fill="#7c818c"/><rect x="8" y="408" width="14" height="4" fill="#a67b52"/><rect x="24" y="408" width="2" height="4" fill="#7c818c"/><rect x="28" y="408" width="6" height="4" fill="#7c818c"/><rect x="8" y="414" width="10" height="4" fill="#a67b52"/><rect x="18" y="414" width="2" height="4" fill="#7c818c"/><rect x="20" y="414" width="16" height="4" fill="#76975f"/><rect x="36" y="414" width="2" height="4" fill="#7c818c"/><rect x="8" y="420" width="24" height="4" fill="#7c818c"/><rect x="34" y="420" width="2" height="4" fill="#7c818c"/><rect x="36" y="420" width="10" height="4" fill="#a67b52"/><rect x="46" y="420" width="2" height="4" fill="#7c818c"/><rect x="48" y="420" width="12" height="4" fill="#76975f"/><rect x="60" y="420" width="2" height="4" fill="#7c818c"/><rect x="64" y="420" width="2" height="4" fill="#7c818c"/><rect x="8" y="426" width="20" height="4" fill="#7c818c"/><rect x="30" y="426" width="2" height="4" fill="#7c818c"/><rect x="32" y="426" width="10" height="4" fill="#a67b52"/><rect x="42" y="426" width="2" height="4" fill="#7c818c"/><rect x="44" y="426" width="10" height="4" fill="#76975f"/><rect x="54" y="426" width="2" height="4" fill="#7c818c"/><rect x="58" y="426" width="2" height="4" fill="#7c818c"/><rect x="8" y="432" width="24" height="4" fill="#7c818c"/><rect x="34" y="432" width="4" height="4" fill="#7c818c"/><rect x="40" y="432" width="6" height="4" fill="#7c818c"/><rect x="48" y="432" width="4" height="4" fill="#7c818c"/><rect x="54" y="432" width="20" height="4" fill="#7c818c"/><rect x="76" y="432" width="2" height="4" fill="#7c818c"/><rect x="78" y="432" width="12" height="4" fill="#a67b52"/><rect x="92" y="432" width="2" height="4" fill="#7c818c"/><rect x="96" y="432" width="6" height="4" fill="#7c818c"/><rect x="4" y="438" width="2" height="4" fill="#7c818c"/><rect x="4" y="450" width="16" height="4" fill="#a160b5"/><rect x="22" y="450" width="28" height="4" fill="#7c818c"/><rect x="52" y="450" width="2" height="4" fill="#7c818c"/><rect x="8" y="456" width="14" height="4" fill="#a67b52"/><rect x="24" y="456" width="2" height="4" fill="#7c818c"/><rect x="28" y="456" width="6" height="4" fill="#7c818c"/><rect x="8" y="462" width="10" height="4" fill="#a67b52"/><rect x="18" y="462" width="2" height="4" fill="#7c818c"/><rect x="20" y="462" width="16" height="4" fill="#76975f"/><rect x="36" y="462" width="2" height="4" fill="#7c818c"/><rect x="8" y="468" width="12" height="4" fill="#7c818c"/><rect x="20" y="468" width="10" height="4" fill="#a67b52"/><rect x="30" y="468" width="2" height="4" fill="#7c818c"/><rect x="32" y="468" width="10" height="4" fill="#76975f"/><rect x="42" y="468" width="4" height="4" fill="#7c818c"/><rect x="8" y="474" width="12" height="4" fill="#7c818c"/><rect x="20" y="474" width="10" height="4" fill="#a67b52"/><rect x="30" y="474" width="2" height="4" fill="#7c818c"/><rect x="32" y="474" width="10" height="4" fill="#76975f"/><rect x="42" y="474" width="4" height="4" fill="#7c818c"/><rect x="8" y="480" width="14" height="4" fill="#7c818c"/><rect x="22" y="480" width="10" height="4" fill="#a67b52"/><rect x="32" y="480" width="2" height="4" fill="#7c818c"/><rect x="34" y="480" width="12" height="4" fill="#76975f"/><rect x="46" y="480" width="4" height="4" fill="#7c818c"/><rect x="8" y="486" width="14" height="4" fill="#7c818c"/><rect x="22" y="486" width="10" height="4" fill="#a67b52"/><rect x="32" y="486" width="2" height="4" fill="#7c818c"/><rect x="34" y="486" width="12" height="4" fill="#76975f"/><rect x="46" y="486" width="4" height="4" fill="#7c818c"/><rect x="8" y="492" width="12" height="4" fill="#7c818c"/><rect x="20" y="492" width="10" height="4" fill="#a67b52"/><rect x="30" y="492" width="2" height="4" fill="#7c818c"/><rect x="32" y="492" width="10" height="4" fill="#76975f"/><rect x="42" y="492" width="4" height="4" fill="#7c818c"/><rect x="8" y="498" width="24" height="4" fill="#7c818c"/><rect x="34" y="498" width="2" height="4" fill="#7c818c"/><rect x="36" y="498" width="10" height="4" fill="#a67b52"/><rect x="46" y="498" width="2" height="4" fill="#7c818c"/><rect x="48" y="498" width="12" height="4" fill="#76975f"/><rect x="60" y="498" width="2" height="4" fill="#7c818c"/><rect x="64" y="498" width="2" height="4" fill="#7c818c"/><rect x="8" y="504" width="20" height="4" fill="#7c818c"/><rect x="30" y="504" width="2" height="4" fill="#7c818c"/><rect x="32" y="504" width="10" height="4" fill="#a67b52"/><rect x="42" y="504" width="2" height="4" fill="#7c818c"/><rect x="44" y="504" width="10" height="4" fill="#76975f"/><rect x="54" y="504" width="2" height="4" fill="#7c818c"/><rect x="58" y="504" width="2" height="4" fill="#7c818c"/><rect x="8" y="510" width="24" height="4" fill="#7c818c"/><rect x="34" y="510" width="4" height="4" fill="#7c818c"/><rect x="40" y="510" width="10" height="4" fill="#7c818c"/><rect x="50" y="510" width="4" height="4" fill="#7c818c"/><rect x="58" y="510" width="10" height="4" fill="#7c818c"/><rect x="70" y="510" width="4" height="4" fill="#7c818c"/><rect x="76" y="510" width="12" height="4" fill="#7c818c"/><rect x="90" y="510" width="4" height="4" fill="#7c818c"/><rect x="96" y="510" width="12" height="4" fill="#7c818c"/><rect x="110" y="510" width="4" height="4" fill="#7c818c"/><rect x="4" y="516" width="2" height="4" fill="#7c818c"/><rect x="4" y="528" width="10" height="4" fill="#7c818c"/><rect x="16" y="528" width="4" height="4" fill="#7c818c"/><rect x="22" y="528" width="8" height="4" fill="#7c818c"/><rect x="32" y="528" width="10" height="4" fill="#a67b52"/><rect x="44" y="528" width="2" height="4" fill="#7c818c"/><rect x="46" y="528" width="8" height="4" fill="#76975f"/><rect x="54" y="528" width="4" height="4" fill="#7c818c"/><rect x="4" y="534" width="6" height="4" fill="#7c818c"/><rect x="12" y="534" width="4" height="4" fill="#7c818c"/><rect x="18" y="534" width="8" height="4" fill="#7c818c"/><rect x="4" y="540" width="6" height="4" fill="#7c818c"/><rect x="12" y="540" width="4" height="4" fill="#7c818c"/><rect x="18" y="540" width="6" height="4" fill="#7c818c"/><rect x="26" y="540" width="2" height="4" fill="#7c818c"/><rect x="30" y="540" width="10" height="4" fill="#a67b52"/><rect x="42" y="540" width="2" height="4" fill="#7c818c"/><rect x="44" y="540" width="30" height="4" fill="#76975f"/><rect x="74" y="540" width="4" height="4" fill="#7c818c"/><rect x="4" y="552" width="6" height="4" fill="#7c818c"/><rect x="12" y="552" width="4" height="4" fill="#7c818c"/><rect x="18" y="552" width="8" height="4" fill="#7c818c"/><rect x="28" y="552" width="10" height="4" fill="#a67b52"/><rect x="40" y="552" width="2" height="4" fill="#7c818c"/><rect x="42" y="552" width="8" height="4" fill="#76975f"/><rect x="50" y="552" width="2" height="4" fill="#7c818c"/><rect x="54" y="552" width="2" height="4" fill="#7c818c"/><rect x="4" y="564" width="10" height="4" fill="#7c818c"/><rect x="16" y="564" width="4" height="4" fill="#7c818c"/><rect x="22" y="564" width="8" height="4" fill="#7c818c"/><rect x="32" y="564" width="10" height="4" fill="#a67b52"/><rect x="44" y="564" width="2" height="4" fill="#7c818c"/><rect x="46" y="564" width="12" height="4" fill="#76975f"/><rect x="58" y="564" width="4" height="4" fill="#7c818c"/><rect x="4" y="570" width="6" height="4" fill="#7c818c"/><rect x="12" y="570" width="4" height="4" fill="#7c818c"/><rect x="18" y="570" width="12" height="4" fill="#7c818c"/><rect x="32" y="570" width="10" height="4" fill="#a67b52"/><rect x="44" y="570" width="2" height="4" fill="#7c818c"/><rect x="46" y="570" width="16" height="4" fill="#76975f"/><rect x="62" y="570" width="4" height="4" fill="#7c818c"/><rect x="4" y="576" width="6" height="4" fill="#7c818c"/><rect x="12" y="576" width="4" height="4" fill="#7c818c"/><rect x="18" y="576" width="8" height="4" fill="#7c818c"/><rect x="28" y="576" width="10" height="4" fill="#a67b52"/><rect x="40" y="576" width="2" height="4" fill="#7c818c"/><rect x="42" y="576" width="18" height="4" fill="#76975f"/><rect x="60" y="576" width="4" height="4" fill="#7c818c"/><rect x="4" y="588" width="6" height="4" fill="#7c818c"/><rect x="12" y="588" width="4" height="4" fill="#7c818c"/><rect x="18" y="588" width="8" height="4" fill="#7c818c"/><rect x="28" y="588" width="10" height="4" fill="#a67b52"/><rect x="40" y="588" width="2" height="4" fill="#7c818c"/><rect x="42" y="588" width="32" height="4" fill="#76975f"/><rect x="74" y="588" width="4" height="4" fill="#7c818c"/><rect x="4" y="594" width="6" height="4" fill="#7c818c"/><rect x="12" y="594" width="4" height="4" fill="#7c818c"/><rect x="18" y="594" width="8" height="4" fill="#7c818c"/><rect x="28" y="594" width="10" height="4" fill="#a67b52"/><rect x="40" y="594" width="2" height="4" fill="#7c818c"/><rect x="42" y="594" width="24" height="4" fill="#76975f"/><rect x="66" y="594" width="4" height="4" fill="#7c818c"/><rect x="4" y="600" width="6" height="4" fill="#7c818c"/><rect x="12" y="600" width="4" height="4" fill="#7c818c"/><rect x="18" y="600" width="8" height="4" fill="#7c818c"/><rect x="28" y="600" width="10" height="4" fill="#a67b52"/><rect x="40" y="600" width="2" height="4" fill="#7c818c"/><rect x="42" y="600" width="18" height="4" fill="#76975f"/><rect x="60" y="600" width="4" height="4" fill="#7c818c"/><rect x="4" y="606" width="6" height="4" fill="#7c818c"/><rect x="12" y="606" width="4" height="4" fill="#7c818c"/><rect x="18" y="606" width="14" height="4" fill="#7c818c"/><rect x="34" y="606" width="10" height="4" fill="#a67b52"/><rect x="46" y="606" width="2" height="4" fill="#7c818c"/><rect x="48" y="606" width="16" height="4" fill="#76975f"/><rect x="64" y="606" width="4" height="4" fill="#7c818c"/><rect x="4" y="618" width="6" height="4" fill="#7c818c"/><rect x="12" y="618" width="4" height="4" fill="#7c818c"/><rect x="18" y="618" width="8" height="4" fill="#7c818c"/><rect x="28" y="618" width="10" height="4" fill="#a67b52"/><rect x="40" y="618" width="2" height="4" fill="#7c818c"/><rect x="42" y="618" width="28" height="4" fill="#76975f"/><rect x="70" y="618" width="4" height="4" fill="#7c818c"/><rect x="4" y="630" width="6" height="4" fill="#7c818c"/><rect x="12" y="630" width="4" height="4" fill="#7c818c"/><rect x="18" y="630" width="6" height="4" fill="#7c818c"/><rect x="26" y="630" width="2" height="4" fill="#7c818c"/><rect x="30" y="630" width="10" height="4" fill="#a67b52"/><rect x="42" y="630" width="2" height="4" fill="#7c818c"/><rect x="44" y="630" width="12" height="4" fill="#76975f"/><rect x="56" y="630" width="4" height="4" fill="#7c818c"/><rect x="4" y="636" width="6" height="4" fill="#7c818c"/><rect x="12" y="636" width="4" height="4" fill="#7c818c"/><rect x="18" y="636" width="8" height="4" fill="#7c818c"/><rect x="4" y="648" width="6" height="4" fill="#7c818c"/><rect x="12" y="648" width="4" height="4" fill="#7c818c"/><rect x="18" y="648" width="8" height="4" fill="#7c818c"/><rect x="4" y="654" width="6" height="4" fill="#7c818c"/><rect x="12" y="654" width="4" height="4" fill="#7c818c"/><rect x="18" y="654" width="12" height="4" fill="#7c818c"/><rect x="32" y="654" width="10" height="4" fill="#a67b52"/><rect x="44" y="654" width="2" height="4" fill="#7c818c"/><rect x="46" y="654" width="16" height="4" fill="#76975f"/><rect x="62" y="654" width="4" height="4" fill="#7c818c"/><rect x="4" y="660" width="6" height="4" fill="#7c818c"/><rect x="12" y="660" width="4" height="4" fill="#7c818c"/><rect x="18" y="660" width="8" height="4" fill="#7c818c"/><rect x="28" y="660" width="10" height="4" fill="#a67b52"/><rect x="40" y="660" width="2" height="4" fill="#7c818c"/><rect x="42" y="660" width="22" height="4" fill="#76975f"/><rect x="64" y="660" width="4" height="4" fill="#7c818c"/><rect x="4" y="672" width="2" height="4" fill="#7c818c"/><rect x="8" y="672" width="8" height="4" fill="#a67b52"/><rect x="18" y="672" width="2" height="4" fill="#7c818c"/><rect x="22" y="672" width="8" height="4" fill="#ae535b"/><rect x="30" y="672" width="2" height="4" fill="#7c818c"/><rect x="36" y="672" width="30" height="4" fill="#7c818c"/><rect x="68" y="672" width="2" height="4" fill="#7c818c"/><rect x="72" y="672" width="30" height="4" fill="#7c818c"/><rect x="104" y="672" width="2" height="4" fill="#7c818c"/><rect x="108" y="672" width="8" height="4" fill="#7c818c"/><rect x="4" y="684" width="2" height="4" fill="#7c818c"/><rect x="6" y="684" width="8" height="4" fill="#a67b52"/><rect x="16" y="684" width="2" height="4" fill="#7c818c"/><rect x="20" y="684" width="8" height="4" fill="#ae535b"/><rect x="28" y="684" width="2" height="4" fill="#7c818c"/><rect x="32" y="684" width="6" height="4" fill="#7c818c"/><rect x="40" y="684" width="2" height="4" fill="#7c818c"/><rect x="44" y="684" width="6" height="4" fill="#7c818c"/><rect x="52" y="684" width="2" height="4" fill="#7c818c"/><rect x="4" y="690" width="2" height="4" fill="#7c818c"/><rect x="6" y="690" width="8" height="4" fill="#a67b52"/><rect x="16" y="690" width="2" height="4" fill="#7c818c"/><rect x="20" y="690" width="8" height="4" fill="#ae535b"/><rect x="28" y="690" width="2" height="4" fill="#7c818c"/><rect x="32" y="690" width="22" height="4" fill="#7c818c"/><rect x="56" y="690" width="2" height="4" fill="#7c818c"/><rect x="60" y="690" width="20" height="4" fill="#7c818c"/><rect x="82" y="690" width="2" height="4" fill="#7c818c"/><rect x="4" y="696" width="2" height="4" fill="#7c818c"/><rect x="6" y="696" width="8" height="4" fill="#a67b52"/><rect x="16" y="696" width="2" height="4" fill="#7c818c"/><rect x="20" y="696" width="8" height="4" fill="#ae535b"/><rect x="28" y="696" width="2" height="4" fill="#7c818c"/><rect x="32" y="696" width="26" height="4" fill="#7c818c"/><rect x="60" y="696" width="2" height="4" fill="#7c818c"/><rect x="64" y="696" width="26" height="4" fill="#7c818c"/><rect x="92" y="696" width="2" height="4" fill="#7c818c"/><rect x="96" y="696" width="20" height="4" fill="#7c818c"/><rect x="0" y="708" width="2" height="4" fill="#7c818c"/><rect x="4" y="708" width="4" height="4" fill="#4c515b"/><rect x="10" y="708" width="6" height="4" fill="#4c515b"/></svg></div></div><div id="pv" style="left:1794px;top:174px;width:1168px;height:1278px;background:#fff;overflow:hidden"><svg style="left:0;top:0" width="1168" height="1278" viewBox="1794 174 1168 1278"><g fill="none" stroke="#000" stroke-width="2.67"><rect x="1842.3" y="242.9" width="400.3" height="1400"/><rect x="2469.3" y="259.8" width="181.4" height="1400"/><rect x="2802.3" y="221.8" width="400" height="1400"/><circle cx="1940.8" cy="406" r="76.4"/><circle cx="2143.6" cy="406" r="78.7"/><circle cx="2567.6" cy="405.7" r="60"/><circle cx="2919.8" cy="405.6" r="95.7"/><circle cx="2567.6" cy="875.4" r="49.6"/><circle cx="2567.6" cy="1098.9" r="49.6"/><circle cx="2567.6" cy="1302" r="49.5"/><path d="M1940.8 482.4V1460M2143.6 484.7V1460M2919.8 501.3V1460M2567.6 465.7V799M2567.6 925V1023M2567.6 1148.5V1226M2567.6 1351.5V1460"/><path d="M2975 726.5Q2800 787 2637.5 848"/><path d="M2518.1 1314.3Q2227.8 1374.7 2073.1 1454.8L2057.7 1462.8"/><path d="M2547.9 1350.3Q2508 1425 2444.5 1451.9L2431.8 1457.3"/></g><g fill="#000" stroke="#000" stroke-width="2.67" stroke-linejoin="miter"><polygon class="ah" points="2558.27,798.53 2576.93,798.53 2567.60,825.20"/><polygon class="ah" points="2558.27,1022.13 2576.93,1022.13 2567.60,1048.80"/><polygon class="ah" points="2558.27,1225.33 2576.93,1225.33 2567.60,1252.00"/><polygon class="ah" points="2134.27,1451.03 2152.93,1451.03 2143.60,1477.70"/><polygon class="ah" points="1931.47,1451.03 1950.13,1451.03 1940.80,1477.70"/><polygon points="2611.5,857.2 2633.7,839.2 2640.2,856.7"/></g><g fill="#000" font-family='"Liberation Serif","Noto Serif CJK JP","Noto Serif CJK SC",serif' text-anchor="middle"><text x="2042.4" y="287.7" font-size="37.33">feature</text><text x="2559.9" y="304.1" font-size="37.33">develop</text><text x="2919.4" y="266.3" font-size="37.33">release</text><text x="1940.8" y="414.3" font-size="26.67">機能B</text><text x="2143.6" y="414.3" font-size="26.67">機能A</text><text x="2567.6" y="414.2" font-size="26.67">開発</text><text x="2921.5" y="414.2" font-size="26.67">リリース</text><text x="2567.6" y="883.7" font-size="26.67">d01</text><text x="2567.6" y="1107.2" font-size="26.67">d02</text><text x="2567.6" y="1310.3" font-size="26.67">d03</text><text x="2925" y="770" font-size="21.33">反映</text><text x="2337.7" y="1421.2" font-size="21.33">機能の実装のためのブランチ</text></g></svg></div><div style="left:222px;top:1452px;width:2740px;height:1px;background:#181a1f"></div><div style="left:112px;top:1453px;width:2850px;height:59px;background:#21252b"></div><div style="left:128px;top:1465px;width:218px;height:41px;background:#181a1f"></div><div style="left:129px;top:1466px;width:89px;height:39px;background:#353b45"></div><div style="left:219px;top:1466px;width:126px;height:39px;background:#2c313a"></div><div class="ui" id="s_file" style="left:143.3px;top:1471px;color:#d7dae0;word-spacing:3.7px;letter-spacing:-.4px">File 0</div><div class="ui" id="s_proj" style="left:231.5px;top:1471px;color:#6b717d;word-spacing:4.6px;letter-spacing:-.1px">Project 0</div><div class="ui" id="s_noi" style="left:389.3px;top:1467px;color:#22b580;letter-spacing:-.62px">No Issues</div><div class="ui" id="s_fn" style="left:504.3px;top:1467px;letter-spacing:.45px">git-flow.dot</div><div class="ui" id="s_pos" style="left:656.5px;top:1467px;letter-spacing:-2.1px">1:1</div><div class="ui" id="s_lf" style="left:2625.3px;top:1467px;letter-spacing:-1.3px">LF</div><div class="ui" id="s_enc" style="left:2683.3px;top:1467px;letter-spacing:-.22px">UTF-8</div><div class="ui" id="s_gr" style="left:2783.6px;top:1467px;letter-spacing:-.47px">Graphviz (DOT)</div><div style="left:122px;top:633px;width:88px;height:2px;background:linear-gradient(90deg,rgba(24,26,31,0),#181a1f 35%,#181a1f 65%,rgba(24,26,31,0))"></div><div style="left:122px;top:849px;width:88px;height:2px;background:linear-gradient(90deg,rgba(24,26,31,0),#181a1f 35%,#181a1f 65%,rgba(24,26,31,0))"></div><svg style="left:0;top:0;pointer-events:none" width="3074" height="1672" viewBox="0 0 3074 1672"><path fill="#9da5b4" fill-rule="evenodd" d="M147.75 140h36.5a4 4 0 0 1 4 4v33.6a4 4 0 0 1-4 4h-36.5a4 4 0 0 1-4-4V144a4 4 0 0 1 4-4zM147.3 147.3v30.6h17.1v-30.6zM168.1 147.3v30.6h17v-30.6z"/><path fill="#7c828e" fill-rule="evenodd" d="M145.5 250h41a3.5 3.5 0 0 1 3.5 3.5v23a3.5 3.5 0 0 1-3.5 3.5h-41a3.5 3.5 0 0 1-3.5-3.5v-23a3.5 3.5 0 0 1 3.5-3.5zM148 274v-18h5.4l5.4 6.8 5.4-6.8h5.4v18h-5.4v-10.3l-5.4 6.8-5.4-6.8v10.3zM178.8 274.6l-7.2-9h4.5v-9.6h5.4v9.6h4.5z"/><path fill="none" stroke="#9da5b4" stroke-width="3" stroke-linejoin="round" d="M153.4 353h16.6l8.5 8.5v25H153.4zM170 353v8.5h8.5"/><path fill="#9da5b4" d="M149.5 458.5h12.5l3 3h15.5a2 2 0 0 1 2 2v3.5h-35v-6.5a2 2 0 0 1 2-2zM147.4 469h37.2l-2.2 18.6a2 2 0 0 1-2 1.8h-28.8a2 2 0 0 1-2-1.8z"/><path fill="#9da5b4" d="M161.5 562.8h9v9.6h6.2L166 583.2 155.3 572.4h6.2zM153.5 577h5.2l-5.4 6.6h7l5.7 6.3 5.7-6.3h7l-5.4-6.6h5.2l8.5 8.4v5.6a2.4 2.4 0 0 1-2.4 2.4h-37.2a2.4 2.4 0 0 1-2.4-2.4v-5.6z"/><circle cx="162.3" cy="686.4" r="11.7" fill="none" stroke="#9da5b4" stroke-width="5.8"/><path d="M171 695l10.3 9.6" stroke="#9da5b4" stroke-width="7.4" fill="none"/><g fill="none" stroke="#9da5b4" stroke-width="6"><path d="M145 805.5h6.5c10 0 11-23 22-23h7"/><path d="M145 783h6.5c4.5 0 7 3.5 9 7.5M165.5 797.5c2 4 4.5 8 8 8h7"/></g><path fill="#9da5b4" d="M178.5 774.8l8.8 7.7-8.8 7.7zM178.5 797.8l8.8 7.7-8.8 7.7z"/><g stroke="#9da5b4" stroke-width="6.4" stroke-linecap="round"><path d="M151 894.2h30M151 906h30M151 917.8h30"/></g><g transform="translate(166 1010)" fill="#9da5b4"><rect x="-4.6" y="-18.4" width="9.2" height="8" rx="1.2" transform="rotate(0)"/><rect x="-4.6" y="-18.4" width="9.2" height="8" rx="1.2" transform="rotate(45)"/><rect x="-4.6" y="-18.4" width="9.2" height="8" rx="1.2" transform="rotate(90)"/><rect x="-4.6" y="-18.4" width="9.2" height="8" rx="1.2" transform="rotate(135)"/><rect x="-4.6" y="-18.4" width="9.2" height="8" rx="1.2" transform="rotate(180)"/><rect x="-4.6" y="-18.4" width="9.2" height="8" rx="1.2" transform="rotate(225)"/><rect x="-4.6" y="-18.4" width="9.2" height="8" rx="1.2" transform="rotate(270)"/><rect x="-4.6" y="-18.4" width="9.2" height="8" rx="1.2" transform="rotate(315)"/></g><circle cx="166" cy="1010" r="11.7" fill="none" stroke="#9da5b4" stroke-width="5.6"/><path d="M238.4 137.6l5.8 6.2 5.8-6.2" fill="none" stroke="#d7dae0" stroke-width="3.6"/><path fill="#d7dae0" fill-rule="evenodd" d="M269 126h11a1.3 1.3 0 0 1 1.3 1.3v2.7h13.7a1.3 1.3 0 0 1 1.3 1.3v17.4a1.3 1.3 0 0 1-1.3 1.3h-26a1.3 1.3 0 0 1-1.3-1.3v-21.4a1.3 1.3 0 0 1 1.3-1.3zM270 128.2v1.4h9.5v-1.4z"/><g stroke="#6b717d" fill="none"><path d="M783 137.5l14.3 14.6" stroke-width="5.6" stroke-linecap="round"/></g><circle cx="778.2" cy="132.6" r="7.3" fill="#6b717d"/><path d="M778.2 132.6l-3.6-9.5-7 7z" fill="#21252b"/><circle cx="776.6" cy="131" r="2.9" fill="#21252b"/><g stroke="#21252b" fill="none"><path d="M801 126l-14 14.300-13 13.200" stroke-width="8.4"/></g><g stroke="#6b717d" fill="none"><path d="M800.6 126.4l-12.800 13" stroke-width="6.2"/><path d="M788.5 138.700l-14.500 14.600" stroke-width="2.4"/><path d="M776.4 151l-3.800 4" stroke-width="4"/></g><g transform="translate(302 180)"><polygon fill="#4c9585" points="-0.1,5.7 21.1,-0.2 27.7,24.2 6.3,30.2"/><path d="M24.9 15.7l9 4.2" stroke="#4c9585" stroke-width="1.7"/><g fill="#21252b"><ellipse cx="11.4" cy="5.9" rx="3.6" ry="2.1" transform="rotate(-12 11.4 5.9)"/><circle cx="19.3" cy="13.4" r="3.9"/><circle cx="12.8" cy="15.2" r="2.2"/><ellipse cx="22" cy="22.4" rx="3.4" ry="2.1" transform="rotate(-12 22 22.4)"/><ellipse cx="10.5" cy="25.7" rx="3.7" ry="2.2" transform="rotate(-12 10.5 25.7)"/></g><g fill="none" stroke="#21252b" stroke-width="1.15"><path d="M9.6 7.4Q7.6 16 9.4 24M12.2 7.6l.5 6M13.8 7l3.3 4M12.4 17l-1.3 7M20.4 16.8l1.4 4M14.2 16.4l5.5 4.6"/></g></g><g transform="translate(903 126.8)"><polygon fill="#4c9585" points="-0.1,5.7 21.1,-0.2 27.7,24.2 6.3,30.2"/><path d="M24.9 15.7l9 4.2" stroke="#4c9585" stroke-width="1.7"/><g fill="#2c313a"><ellipse cx="11.4" cy="5.9" rx="3.6" ry="2.1" transform="rotate(-12 11.4 5.9)"/><circle cx="19.3" cy="13.4" r="3.9"/><circle cx="12.8" cy="15.2" r="2.2"/><ellipse cx="22" cy="22.4" rx="3.4" ry="2.1" transform="rotate(-12 22 22.4)"/><ellipse cx="10.5" cy="25.7" rx="3.7" ry="2.2" transform="rotate(-12 10.5 25.7)"/></g><g fill="none" stroke="#2c313a" stroke-width="1.15"><path d="M9.6 7.4Q7.6 16 9.4 24M12.2 7.6l.5 6M13.8 7l3.3 4M12.4 17l-1.3 7M20.4 16.8l1.4 4M14.2 16.4l5.5 4.6"/></g></g><g transform="translate(1816.3 126.3)"><polygon fill="#4c9585" points="-0.1,5.7 21.1,-0.2 27.7,24.2 6.3,30.2"/><path d="M24.9 15.7l9 4.2" stroke="#4c9585" stroke-width="1.7"/><g fill="#2c313a"><ellipse cx="11.4" cy="5.9" rx="3.6" ry="2.1" transform="rotate(-12 11.4 5.9)"/><circle cx="19.3" cy="13.4" r="3.9"/><circle cx="12.8" cy="15.2" r="2.2"/><ellipse cx="22" cy="22.4" rx="3.4" ry="2.1" transform="rotate(-12 22 22.4)"/><ellipse cx="10.5" cy="25.7" rx="3.7" ry="2.2" transform="rotate(-12 10.5 25.7)"/></g><g fill="none" stroke="#2c313a" stroke-width="1.15"><path d="M9.6 7.4Q7.6 16 9.4 24M12.2 7.6l.5 6M13.8 7l3.3 4M12.4 17l-1.3 7M20.4 16.8l1.4 4M14.2 16.4l5.5 4.6"/></g></g><path d="M359.5 1483.2l7.200 7.200 13.600-15.300" fill="none" stroke="#22b580" stroke-width="5.2"/></svg></div></body></html>
